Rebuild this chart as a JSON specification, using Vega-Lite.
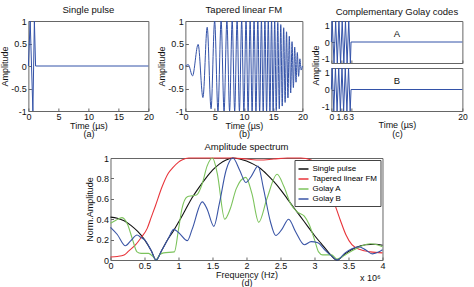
{
  "$schema": "https://vega.github.io/schema/vega-lite/v6.json",
  "padding": {"left": 0, "top": 4, "right": 2, "bottom": 0},
  "background": "white",
  "center": true,
  "align": "each",
  "spacing": 2,
  "resolve": {"scale": {"color": "independent"}, "legend": {"color": "independent"}},
  "config": {
    "font": "Liberation Sans",
    "view": {"stroke": "#666"},
    "axis": {"grid": false, "domain": false, "tickColor": "#666", "tickSize": -3, "labelFontSize": 9, "labelColor": "#111", "titleFontSize": 9, "titleFontWeight": "normal", "titleColor": "#111", "labelFlush": false, "labelOverlap": false, "labelPadding": 5, "titlePadding": 1, "titleLineHeight": 8.5},
    "axisX": {"titlePadding": 0, "labelPadding": 4},
    "title": {"fontSize": 9.5, "fontWeight": "normal", "offset": 3, "color": "#111"},
    "legend": {"fillColor": "white", "strokeColor": "#444", "padding": 3, "labelFontSize": 8, "symbolType": "stroke", "symbolSize": 100, "symbolStrokeWidth": 1.5, "rowPadding": -1, "labelOffset": 3}
  },
  "vconcat": [
    {
      "align": "none",
      "spacing": 2,
      "hconcat": [
        {
          "title": "Single pulse",
          "width": 120, "height": 90,
          "data": {"values": [
            {"t": 0, "v": 0}, {"t": 0.3, "v": 1}, {"t": 0.75, "v": -1}, {"t": 1.0, "v": 1}, {"t": 1.2, "v": 0}, {"t": 20, "v": 0}
          ]},
          "mark": {"type": "line", "color": "#3352a8", "strokeWidth": 1},
          "encoding": {
            "x": {"field": "t", "type": "quantitative", "scale": {"domain": [0, 20], "nice": false}, "axis": {"values": [0, 5, 10, 15, 20], "tickCount": 30, "labelOverlap": false, "title": ["Time (µs)", "(a)"], "labelExpr": "'' + datum.value"}},
            "y": {"field": "v", "type": "quantitative", "scale": {"domain": [-1, 1], "nice": false}, "axis": {"values": [-1, -0.5, 0, 0.5, 1], "tickCount": 30, "labelOverlap": false, "title": "Amplitude", "labelExpr": "'' + datum.value"}}
          }
        },
        {
          "title": "Tapered linear FM",
          "width": 117, "height": 90,
          "data": {"values": [
            {"t": 0, "v": 0}, {"t": 0.5, "v": 0.03}, {"t": 1.217, "v": -0.22}, {"t": 2.179, "v": 0.48}, {"t": 3.0, "v": -0.7}, {"t": 3.728, "v": 0.86}, {"t": 4.39, "v": -0.95}, {"t": 5.0, "v": 1}, {"t": 5.569, "v": -1}, {"t": 6.105, "v": 1}, {"t": 6.612, "v": -1}, {"t": 7.095, "v": 1}, {"t": 7.557, "v": -1}, {"t": 8.0, "v": 1}, {"t": 8.427, "v": -1}, {"t": 8.839, "v": 1}, {"t": 9.238, "v": -1}, {"t": 9.624, "v": 1}, {"t": 10.0, "v": -1}, {"t": 10.365, "v": 1}, {"t": 10.721, "v": -1}, {"t": 11.069, "v": 1}, {"t": 11.408, "v": -1}, {"t": 11.74, "v": 1}, {"t": 12.064, "v": -1}, {"t": 12.382, "v": 1}, {"t": 12.694, "v": -1}, {"t": 13.0, "v": 1}, {"t": 13.3, "v": -1}, {"t": 13.595, "v": 1}, {"t": 13.885, "v": -1}, {"t": 14.171, "v": 1}, {"t": 14.451, "v": -1}, {"t": 14.728, "v": 1}, {"t": 15.0, "v": -1}, {"t": 15.268, "v": 1}, {"t": 15.533, "v": -0.99}, {"t": 15.794, "v": 0.97}, {"t": 16.051, "v": -0.95}, {"t": 16.305, "v": 0.92}, {"t": 16.556, "v": -0.89}, {"t": 16.804, "v": 0.85}, {"t": 17.049, "v": -0.81}, {"t": 17.291, "v": 0.76}, {"t": 17.53, "v": -0.71}, {"t": 17.766, "v": 0.66}, {"t": 18.0, "v": -0.6}, {"t": 18.231, "v": 0.54}, {"t": 18.46, "v": -0.48}, {"t": 18.687, "v": 0.42}, {"t": 18.911, "v": -0.36}, {"t": 19.133, "v": 0.3}, {"t": 19.353, "v": -0.23}, {"t": 19.571, "v": 0.16}, {"t": 19.786, "v": -0.09}, {"t": 20.0, "v": 0}
          ]},
          "mark": {"type": "line", "color": "#3352a8", "strokeWidth": 1, "interpolate": "monotone"},
          "encoding": {
            "x": {"field": "t", "type": "quantitative", "scale": {"domain": [0, 20], "nice": false}, "axis": {"values": [0, 5, 10, 15, 20], "tickCount": 30, "labelOverlap": false, "title": ["Time (µs)", "(b)"], "labelExpr": "'' + datum.value"}},
            "y": {"field": "v", "type": "quantitative", "scale": {"domain": [-1, 1], "nice": false}, "axis": {"values": [-1, -0.5, 0, 0.5, 1], "tickCount": 30, "labelOverlap": false, "title": "Amplitude", "labelExpr": "'' + datum.value"}}
          }
        },
        {
          "align": "none",
          "bounds": "flush",
          "spacing": 5,
          "vconcat": [
            {
              "title": "Complementary Golay codes",
              "width": 131, "height": 42,
              "layer": [
                {
                  "data": {"values": [
                    {"t": 0, "v": 0}, {"t": 0.12, "v": 1}, {"t": 0.4, "v": -1}, {"t": 0.65, "v": 1}, {"t": 0.9, "v": -1}, {"t": 1.15, "v": 1}, {"t": 1.4, "v": -1}, {"t": 1.65, "v": 1}, {"t": 1.9, "v": -1}, {"t": 2.15, "v": 1}, {"t": 2.4, "v": -1}, {"t": 2.65, "v": 1}, {"t": 2.9, "v": -1}, {"t": 3.0, "v": 0}, {"t": 20, "v": 0}
                  ]},
                  "mark": {"type": "line", "color": "#3352a8", "strokeWidth": 1},
                  "encoding": {
                    "x": {"field": "t", "type": "quantitative", "scale": {"domain": [0, 20], "nice": false}, "axis": {"values": [0, 1.6, 3, 20], "tickCount": 30, "labels": false, "title": null}},
                    "y": {"field": "v", "type": "quantitative", "scale": {"domain": [-1, 1], "nice": false}, "axis": {"values": [-1, 0, 1], "tickCount": 30, "labelOverlap": false, "labelFlush": true, "title": null, "labelExpr": "'' + datum.value"}}
                  }
                },
                {
                  "data": {"values": [{"t": 10, "v": 0.4, "label": "A"}]},
                  "mark": {"type": "text", "fontSize": 9.5, "color": "#111"},
                  "encoding": {
                    "x": {"field": "t", "type": "quantitative", "scale": {"domain": [0, 20], "nice": false}},
                    "y": {"field": "v", "type": "quantitative", "scale": {"domain": [-1, 1], "nice": false}},
                    "text": {"field": "label"}
                  }
                }
              ]
            },
            {
              "width": 131, "height": 43,
              "layer": [
                {
                  "data": {"values": [
                    {"t": 0, "v": 0}, {"t": 0.12, "v": 1}, {"t": 0.37, "v": -1}, {"t": 0.62, "v": 1}, {"t": 0.87, "v": -1}, {"t": 1.12, "v": 1}, {"t": 1.37, "v": -1}, {"t": 1.62, "v": 1}, {"t": 1.87, "v": -1}, {"t": 2.12, "v": 1}, {"t": 2.37, "v": -1}, {"t": 2.62, "v": 1}, {"t": 2.87, "v": -1}, {"t": 3.0, "v": 0}, {"t": 20, "v": 0}
                  ]},
                  "mark": {"type": "line", "color": "#3352a8", "strokeWidth": 1},
                  "encoding": {
                    "x": {"field": "t", "type": "quantitative", "scale": {"domain": [0, 20], "nice": false}, "axis": {"values": [0, 1.6, 3, 20], "tickCount": 30, "labelOverlap": false, "labelFontSize": 8.5, "title": ["Time (µs)", "(c)"], "labelExpr": "'' + datum.value"}},
                    "y": {"field": "v", "type": "quantitative", "scale": {"domain": [-1, 1], "nice": false}, "axis": {"values": [-1, 0, 1], "tickCount": 30, "labelOverlap": false, "labelFlush": true, "title": "Amplitude", "titleY": -3, "labelExpr": "'' + datum.value"}}
                  }
                },
                {
                  "data": {"values": [{"t": 10, "v": 0.4, "label": "B"}]},
                  "mark": {"type": "text", "fontSize": 9.5, "color": "#111"},
                  "encoding": {
                    "x": {"field": "t", "type": "quantitative", "scale": {"domain": [0, 20], "nice": false}},
                    "y": {"field": "v", "type": "quantitative", "scale": {"domain": [-1, 1], "nice": false}},
                    "text": {"field": "label"}
                  }
                }
              ]
            }
          ]
        }
      ]
    },
    {
      "title": "Amplitude spectrum",
      "width": 272, "height": 102,
      "layer": [
        {
          "data": {"values": [
            {"s": "Single pulse", "f": 0, "v": 0.42}, {"s": "Single pulse", "f": 0.1, "v": 0.41}, {"s": "Single pulse", "f": 0.2, "v": 0.385}, {"s": "Single pulse", "f": 0.3, "v": 0.34}, {"s": "Single pulse", "f": 0.4, "v": 0.28}, {"s": "Single pulse", "f": 0.5, "v": 0.2}, {"s": "Single pulse", "f": 0.6, "v": 0.09}, {"s": "Single pulse", "f": 0.67, "v": 0}, {"s": "Single pulse", "f": 0.75, "v": 0.09}, {"s": "Single pulse", "f": 0.85, "v": 0.21}, {"s": "Single pulse", "f": 0.93, "v": 0.29}, {"s": "Single pulse", "f": 1.0, "v": 0.37}, {"s": "Single pulse", "f": 1.1, "v": 0.49}, {"s": "Single pulse", "f": 1.2, "v": 0.61}, {"s": "Single pulse", "f": 1.3, "v": 0.71}, {"s": "Single pulse", "f": 1.4, "v": 0.8}, {"s": "Single pulse", "f": 1.5, "v": 0.88}, {"s": "Single pulse", "f": 1.6, "v": 0.94}, {"s": "Single pulse", "f": 1.7, "v": 0.98}, {"s": "Single pulse", "f": 1.8, "v": 1.0}, {"s": "Single pulse", "f": 1.9, "v": 0.99}, {"s": "Single pulse", "f": 2.0, "v": 0.97}, {"s": "Single pulse", "f": 2.1, "v": 0.94}, {"s": "Single pulse", "f": 2.2, "v": 0.9}, {"s": "Single pulse", "f": 2.3, "v": 0.84}, {"s": "Single pulse", "f": 2.4, "v": 0.77}, {"s": "Single pulse", "f": 2.5, "v": 0.69}, {"s": "Single pulse", "f": 2.6, "v": 0.6}, {"s": "Single pulse", "f": 2.7, "v": 0.51}, {"s": "Single pulse", "f": 2.8, "v": 0.42}, {"s": "Single pulse", "f": 2.9, "v": 0.33}, {"s": "Single pulse", "f": 3.0, "v": 0.24}, {"s": "Single pulse", "f": 3.1, "v": 0.16}, {"s": "Single pulse", "f": 3.2, "v": 0.08}, {"s": "Single pulse", "f": 3.33, "v": 0}, {"s": "Single pulse", "f": 3.45, "v": 0.06}, {"s": "Single pulse", "f": 3.6, "v": 0.12}, {"s": "Single pulse", "f": 3.75, "v": 0.15}, {"s": "Single pulse", "f": 3.9, "v": 0.155}, {"s": "Single pulse", "f": 4.0, "v": 0.145},
            {"s": "Tapered linear FM", "f": 0, "v": 0.03}, {"s": "Tapered linear FM", "f": 0.1, "v": 0.035}, {"s": "Tapered linear FM", "f": 0.2, "v": 0.05}, {"s": "Tapered linear FM", "f": 0.27, "v": 0.09}, {"s": "Tapered linear FM", "f": 0.37, "v": 0.15}, {"s": "Tapered linear FM", "f": 0.45, "v": 0.22}, {"s": "Tapered linear FM", "f": 0.54, "v": 0.31}, {"s": "Tapered linear FM", "f": 0.6, "v": 0.42}, {"s": "Tapered linear FM", "f": 0.66, "v": 0.53}, {"s": "Tapered linear FM", "f": 0.76, "v": 0.72}, {"s": "Tapered linear FM", "f": 0.85, "v": 0.85}, {"s": "Tapered linear FM", "f": 0.91, "v": 0.9}, {"s": "Tapered linear FM", "f": 1.0, "v": 0.96}, {"s": "Tapered linear FM", "f": 1.05, "v": 0.98}, {"s": "Tapered linear FM", "f": 1.15, "v": 1.0}, {"s": "Tapered linear FM", "f": 1.5, "v": 1.0}, {"s": "Tapered linear FM", "f": 1.8, "v": 1.0}, {"s": "Tapered linear FM", "f": 2.0, "v": 0.99}, {"s": "Tapered linear FM", "f": 2.2, "v": 0.98}, {"s": "Tapered linear FM", "f": 2.4, "v": 0.99}, {"s": "Tapered linear FM", "f": 2.6, "v": 1.0}, {"s": "Tapered linear FM", "f": 2.8, "v": 1.0}, {"s": "Tapered linear FM", "f": 2.95, "v": 0.98}, {"s": "Tapered linear FM", "f": 3.05, "v": 0.93}, {"s": "Tapered linear FM", "f": 3.15, "v": 0.8}, {"s": "Tapered linear FM", "f": 3.28, "v": 0.58}, {"s": "Tapered linear FM", "f": 3.38, "v": 0.39}, {"s": "Tapered linear FM", "f": 3.46, "v": 0.25}, {"s": "Tapered linear FM", "f": 3.55, "v": 0.15}, {"s": "Tapered linear FM", "f": 3.68, "v": 0.1}, {"s": "Tapered linear FM", "f": 3.82, "v": 0.08}, {"s": "Tapered linear FM", "f": 4.0, "v": 0.07},
            {"s": "Golay A", "f": 0, "v": 0.36}, {"s": "Golay A", "f": 0.08, "v": 0.39}, {"s": "Golay A", "f": 0.17, "v": 0.415}, {"s": "Golay A", "f": 0.25, "v": 0.35}, {"s": "Golay A", "f": 0.32, "v": 0.21}, {"s": "Golay A", "f": 0.39, "v": 0.08}, {"s": "Golay A", "f": 0.45, "v": 0.065}, {"s": "Golay A", "f": 0.56, "v": 0.065}, {"s": "Golay A", "f": 0.63, "v": 0.03}, {"s": "Golay A", "f": 0.67, "v": 0.0}, {"s": "Golay A", "f": 0.72, "v": 0.05}, {"s": "Golay A", "f": 0.78, "v": 0.07}, {"s": "Golay A", "f": 0.94, "v": 0.08}, {"s": "Golay A", "f": 1.0, "v": 0.3}, {"s": "Golay A", "f": 1.05, "v": 0.5}, {"s": "Golay A", "f": 1.13, "v": 0.62}, {"s": "Golay A", "f": 1.2, "v": 0.63}, {"s": "Golay A", "f": 1.27, "v": 0.64}, {"s": "Golay A", "f": 1.35, "v": 0.75}, {"s": "Golay A", "f": 1.42, "v": 0.92}, {"s": "Golay A", "f": 1.5, "v": 1.0}, {"s": "Golay A", "f": 1.57, "v": 0.85}, {"s": "Golay A", "f": 1.68, "v": 0.4}, {"s": "Golay A", "f": 1.76, "v": 0.5}, {"s": "Golay A", "f": 1.85, "v": 0.7}, {"s": "Golay A", "f": 1.99, "v": 0.81}, {"s": "Golay A", "f": 2.08, "v": 0.65}, {"s": "Golay A", "f": 2.18, "v": 0.37}, {"s": "Golay A", "f": 2.3, "v": 0.6}, {"s": "Golay A", "f": 2.45, "v": 0.84}, {"s": "Golay A", "f": 2.55, "v": 0.72}, {"s": "Golay A", "f": 2.65, "v": 0.55}, {"s": "Golay A", "f": 2.75, "v": 0.47}, {"s": "Golay A", "f": 2.85, "v": 0.43}, {"s": "Golay A", "f": 2.92, "v": 0.35}, {"s": "Golay A", "f": 3.0, "v": 0.2}, {"s": "Golay A", "f": 3.06, "v": 0.08}, {"s": "Golay A", "f": 3.12, "v": 0.05}, {"s": "Golay A", "f": 3.25, "v": 0.05}, {"s": "Golay A", "f": 3.33, "v": 0.01}, {"s": "Golay A", "f": 3.45, "v": 0.05}, {"s": "Golay A", "f": 3.58, "v": 0.1}, {"s": "Golay A", "f": 3.7, "v": 0.14}, {"s": "Golay A", "f": 3.82, "v": 0.16}, {"s": "Golay A", "f": 3.92, "v": 0.15}, {"s": "Golay A", "f": 4.0, "v": 0.13},
            {"s": "Golay B", "f": 0, "v": 0.32}, {"s": "Golay B", "f": 0.1, "v": 0.25}, {"s": "Golay B", "f": 0.22, "v": 0.14}, {"s": "Golay B", "f": 0.3, "v": 0.19}, {"s": "Golay B", "f": 0.39, "v": 0.245}, {"s": "Golay B", "f": 0.45, "v": 0.22}, {"s": "Golay B", "f": 0.5, "v": 0.2}, {"s": "Golay B", "f": 0.6, "v": 0.09}, {"s": "Golay B", "f": 0.67, "v": 0}, {"s": "Golay B", "f": 0.75, "v": 0.09}, {"s": "Golay B", "f": 0.85, "v": 0.21}, {"s": "Golay B", "f": 0.93, "v": 0.3}, {"s": "Golay B", "f": 1.0, "v": 0.27}, {"s": "Golay B", "f": 1.13, "v": 0.19}, {"s": "Golay B", "f": 1.2, "v": 0.3}, {"s": "Golay B", "f": 1.35, "v": 0.57}, {"s": "Golay B", "f": 1.42, "v": 0.5}, {"s": "Golay B", "f": 1.52, "v": 0.33}, {"s": "Golay B", "f": 1.6, "v": 0.55}, {"s": "Golay B", "f": 1.7, "v": 0.88}, {"s": "Golay B", "f": 1.8, "v": 1.0}, {"s": "Golay B", "f": 1.9, "v": 0.88}, {"s": "Golay B", "f": 1.99, "v": 0.76}, {"s": "Golay B", "f": 2.07, "v": 0.82}, {"s": "Golay B", "f": 2.17, "v": 0.92}, {"s": "Golay B", "f": 2.25, "v": 0.7}, {"s": "Golay B", "f": 2.35, "v": 0.38}, {"s": "Golay B", "f": 2.43, "v": 0.24}, {"s": "Golay B", "f": 2.52, "v": 0.3}, {"s": "Golay B", "f": 2.62, "v": 0.4}, {"s": "Golay B", "f": 2.72, "v": 0.28}, {"s": "Golay B", "f": 2.85, "v": 0.15}, {"s": "Golay B", "f": 2.95, "v": 0.18}, {"s": "Golay B", "f": 3.05, "v": 0.17}, {"s": "Golay B", "f": 3.15, "v": 0.1}, {"s": "Golay B", "f": 3.25, "v": 0.04}, {"s": "Golay B", "f": 3.33, "v": 0}, {"s": "Golay B", "f": 3.45, "v": 0.07}, {"s": "Golay B", "f": 3.55, "v": 0.11}, {"s": "Golay B", "f": 3.65, "v": 0.13}, {"s": "Golay B", "f": 3.75, "v": 0.1}, {"s": "Golay B", "f": 3.85, "v": 0.06}, {"s": "Golay B", "f": 3.95, "v": 0.08}, {"s": "Golay B", "f": 4.0, "v": 0.1}
          ]},
          "mark": {"type": "line", "strokeWidth": 1.1, "interpolate": "monotone"},
          "encoding": {
            "x": {"field": "f", "type": "quantitative", "scale": {"domain": [0, 4], "nice": false}, "axis": {"values": [0, 0.5, 1, 1.5, 2, 2.5, 3, 3.5, 4], "tickCount": 30, "labelOverlap": false, "title": ["Frequency (Hz)", "(d)"], "labelExpr": "'' + datum.value"}},
            "y": {"field": "v", "type": "quantitative", "scale": {"domain": [0, 1], "nice": false}, "axis": {"values": [0, 0.2, 0.4, 0.6, 0.8, 1], "tickCount": 30, "labelOverlap": false, "title": "Norm.Amplitude", "labelExpr": "'' + datum.value"}},
            "color": {"field": "s", "type": "nominal", "sort": null, "scale": {"domain": ["Single pulse", "Tapered linear FM", "Golay A", "Golay B"], "range": ["#111111", "#e8343a", "#7cc35c", "#3a55a6"]}, "legend": {"title": null, "orient": "top-right", "offset": 2}}
          }
        },
        {
          "data": {"values": [{"f": 3.82, "v": -0.18, "label": "x 10⁶"}]},
          "mark": {"type": "text", "fontSize": 9, "color": "#111"},
          "encoding": {
            "x": {"field": "f", "type": "quantitative", "scale": {"domain": [0, 4], "nice": false}},
            "y": {"field": "v", "type": "quantitative", "scale": {"domain": [0, 1], "nice": false}},
            "text": {"field": "label"}
          }
        }
      ]
    }
  ]
}
